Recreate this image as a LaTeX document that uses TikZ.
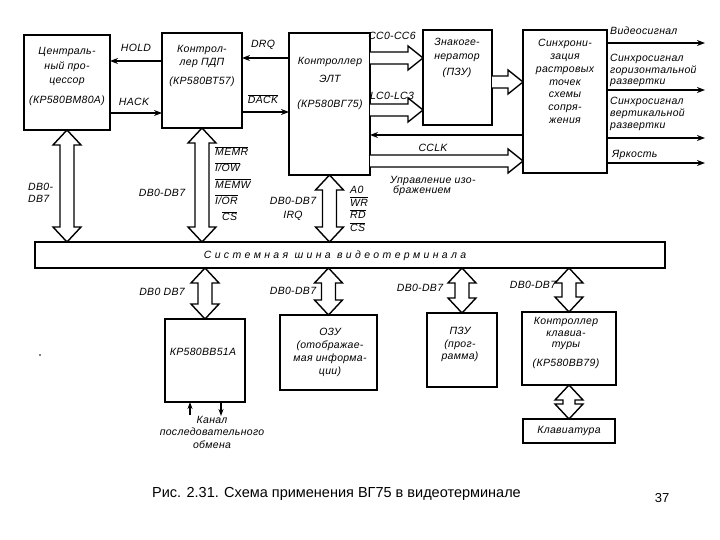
\documentclass[tikz,border=0pt]{standalone}
\usepackage{fontspec}
\setmainfont{Liberation Sans}
\newfontfamily\hw[LetterSpace=3]{Liberation Sans}
\newfontfamily\hwbus[LetterSpace=32]{Liberation Sans}
\newfontfamily\capfont{Liberation Sans}
\usetikzlibrary{arrows.meta,calc}
\newcommand{\lf}[1]{\hw\itshape\fontsize{10.5}{#1}\selectfont}
\newcommand{\ovl}[1]{$\overline{\mbox{#1}}$}
% vertical hollow double arrow: #2 top point, #3 bottom point, #1 half shaft width
\newcommand{\VDA}[3][7]{\path[wide] let \p1=(#2), \p2=(#3) in
  (\x1,\y1) -- (\x1+14pt,\y1-15pt) -- (\x1+#1pt,\y1-15pt) -- (\x1+#1pt,\y2+15pt)
  -- (\x1+14pt,\y2+15pt) -- (\x1,\y2) -- (\x1-14pt,\y2+15pt) -- (\x1-#1pt,\y2+15pt)
  -- (\x1-#1pt,\y1-15pt) -- (\x1-14pt,\y1-15pt) -- cycle;}
% horizontal hollow arrow to the right: #1 start (gives y), #2 end (gives x)
\newcommand{\HRA}[2]{\path[wide] let \p1=(#1), \p2=(#2) in
  (\x1,\y1+6pt) -- (\x2-15pt,\y1+6pt) -- (\x2-15pt,\y1+12pt) -- (\x2,\y1)
  -- (\x2-15pt,\y1-12pt) -- (\x2-15pt,\y1-6pt) -- (\x1,\y1-6pt);}
\begin{document}
\begin{tikzpicture}[x=1pt,y=-1pt,
  box/.style={draw, line width=1.6pt, anchor=north west, inner sep=0pt, outer sep=0pt},
  lbl/.style={font=\lf{12.5}, inner sep=0pt, align=center},
  sig/.style={line width=1.4pt, -{Stealth[length=8pt,width=6pt]}},
  wide/.style={draw, line width=1.4pt, fill=white, line join=miter}]
\useasboundingbox (0,0) rectangle (720,540);

% boxes
\node[box, minimum width=86pt, minimum height=95pt] (cpu) at (24,35) {};
\node[box, minimum width=80pt, minimum height=95pt] (dma) at (162,33) {};
\node[box, minimum width=81pt, minimum height=142pt] (crt) at (289,33) {};
\node[box, minimum width=69pt, minimum height=95pt] (cg) at (423,30) {};
\node[box, minimum width=84pt, minimum height=143pt] (sync) at (523,30) {};
\node[box, minimum width=630pt, minimum height=26pt] (bus) at (35,242) {};
\node[box, minimum width=80pt, minimum height=83pt] (uart) at (165,319) {};
\node[box, minimum width=97pt, minimum height=75pt] (ram) at (280,315) {};
\node[box, minimum width=70pt, minimum height=74pt] (rom) at (427,313) {};
\node[box, minimum width=94pt, minimum height=73pt] (kbc) at (522,312) {};
\node[box, minimum width=92pt, minimum height=24pt] (kb) at (523,419) {};

% box texts
\node[lbl, font=\lf{14.5}] (tcpu) at (67,76.5) {Централь-\\ный про-\\цессор\\[5pt](КР580ВМ80А)};
\node[lbl, font=\lf{13}] (tdma) at (202,66) {Контрол-\\лер ПДП\\[6pt](КР580ВТ57)};
\node[lbl, font=\lf{18}] (tcrt) at (330,83.5) {Контроллер\\ЭЛТ\\[7pt](КР580ВГ75)};
\node[lbl, font=\lf{14.5}] (tcg) at (457,58) {Знакоге-\\нератор\\[1.5pt](ПЗУ)};
\node[lbl, font=\lf{12.8}] (tsync) at (565,81.5) {Синхрони-\\зация\\растровых\\точек\\схемы\\сопря-\\жения};
\node[lbl] (tbus) at (335,256) {\hwbus\itshape\fontsize{10.5}{12}\selectfont Системная шина видеотерминала};
\node[lbl] (tuart) at (203,352) {КР580ВВ51А};
\node[lbl, font=\lf{13}] (tram) at (330,352.5) {ОЗУ\\(отображае-\\мая информа-\\ции)};
\node[lbl, font=\lf{12.5}] (trom) at (460,344.5) {ПЗУ\\(прог-\\рамма)};
\node[lbl, font=\lf{11.5}] (tkbc) at (566,343) {Контроллер\\клавиа-\\туры\\[7pt](КР580ВВ79)};
\node[lbl] (tkb) at (569,431) {Клавиатура};

% thin signal lines
\coordinate (outx) at (705,0);
\draw[sig] ($(dma.north west)+(0,28)$) coordinate (h1) -- (h1 -| cpu.east);
\draw[sig] ($(cpu.north east)+(0,78)$) coordinate (k1) -- (k1 -| dma.west);
\draw[sig] ($(crt.north west)+(0,25)$) coordinate (d1) -- (d1 -| dma.east);
\draw[sig] ($(dma.north east)+(0,79)$) coordinate (d2) -- (d2 -| crt.west);
\draw[sig] ($(sync.north west)+(0,105)$) coordinate (c1) -- (c1 -| crt.east);
\draw[sig] ($(sync.north east)+(0,13)$) coordinate (o1) -- (o1 -| outx);
\draw[sig] ($(sync.north east)+(0,60)$) coordinate (o2) -- (o2 -| outx);
\draw[sig] ($(sync.north east)+(0,108)$) coordinate (o3) -- (o3 -| outx);
\draw[sig] ($(sync.north east)+(0,133)$) coordinate (o4) -- (o4 -| outx);
\coordinate (chA) at (190,415);
\coordinate (chB) at (221,416);
\draw[sig, -{Stealth[length=7pt,width=5pt]}] (chA) -- (chA |- uart.south);
\draw[sig, -{Stealth[length=7pt,width=5pt]}] (chB |- uart.south) -- (chB);

% wide horizontal arrows
\HRA{$(crt.north east)+(0,25)$}{cg.west}
\HRA{$(crt.north east)+(0,77)$}{cg.west}
\HRA{$(cg.north east)+(0,52)$}{sync.west}
\HRA{$(crt.north east)+(0,128)$}{sync.west}

% wide vertical double arrows
\VDA{cpu.south}{cpu.south |- bus.north}
\VDA{dma.south}{dma.south |- bus.north}
\VDA{crt.south}{crt.south |- bus.north}
\VDA{uart.north |- bus.south}{uart.north}
\VDA{ram.north |- bus.south}{ram.north}
\VDA{rom.north |- bus.south}{rom.north}
\VDA{kbc.north |- bus.south}{kbc.north}
\VDA[6]{kbc.south}{kb.north}

% signal labels
\node[lbl] (lhold) at (136,48) {HOLD};
\node[lbl] (lhack) at (134,102) {HACK};
\node[lbl] (ldrq) at (263,45) {DRQ};
\node[lbl] (ldack) at (263,99) {\ovl{DACK}};
\node[lbl] (lcc) at (392,36) {CC0-CC6};
\node[lbl] (llc) at (392,96) {LC0-LC3};
\node[lbl] (lcclk) at (433,148) {CCLK};
\node[lbl, font=\lf{10}, align=left, anchor=north west] (lupr) at (390,176) {Управление изо-\\\hspace*{3pt}бражением};
\node[lbl, font=\lf{11.5}, align=left, anchor=west] (lvid) at (610,31) {Видеосигнал};
\node[lbl, font=\lf{11.5}, align=left, anchor=west] (lhs) at (610,70.5) {Синхросигнал\\горизонтальной\\развертки};
\node[lbl, font=\lf{12}, align=left, anchor=west] (lvs) at (610,114) {Синхросигнал\\вертикальной\\развертки};
\node[lbl, align=left, anchor=west] (lbr) at (612,155) {Яркость};

\node[lbl, font=\lf{12}, align=left, anchor=west] (ldb1) at (28,193) {DB0-\\DB7};
\node[lbl] (ldb2) at (162,193) {DB0-DB7};
\node[lbl, font=\lf{16.2}, align=left, anchor=west] (lmem) at (215,183.5) {\ovl{MEMR}\\\ovl{I/OW}\\\ovl{MEMW}\\\ovl{I/OR}\\\hspace*{7pt}\ovl{CS}};
\node[lbl, font=\lf{14}] (ldb3) at (293,209) {DB0-DB7\\IRQ};
\node[lbl, font=\lf{12.7}, align=left, anchor=west] (la0) at (350,209) {A0\\\ovl{WR}\\\ovl{RD}\\\ovl{CS}};

\node[lbl] (ldb4) at (162,292) {DB0 DB7};
\node[lbl] (ldb5) at (293,291) {DB0-DB7};
\node[lbl] (ldb6) at (420,288) {DB0-DB7};
\node[lbl] (ldb7) at (533,285) {DB0-DB7};
\node[lbl, font=\lf{12.5}] (lch) at (212,432) {Канал\\последовательного\\обмена};

\fill (40,355) circle (0.8);

% caption
\node[anchor=west, inner sep=0pt, font=\capfont\fontsize{14.5}{16}\selectfont] (cap) at (152,494) {Рис. 2.31. Схема применения ВГ75 в видеотерминале};
\node[inner sep=0pt, font=\capfont\fontsize{13}{15}\selectfont] (page) at (662,498) {37};
\end{tikzpicture}
\end{document}
